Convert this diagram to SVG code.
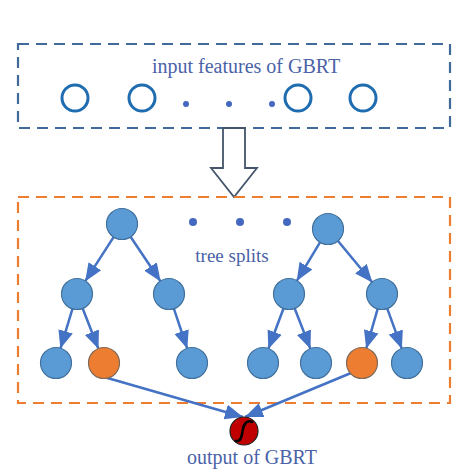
<svg xmlns="http://www.w3.org/2000/svg" width="474" height="474" viewBox="0 0 474 474">
<defs>
<style>
.lbl{font-family:"Liberation Serif","Times New Roman",serif;fill:#4a62a8;text-anchor:middle}
.in{fill:none;stroke:#1f6cb0;stroke-width:3}
.dot{fill:#4468c0}
.nd{fill:#5b9bd5;stroke:#41719c;stroke-width:1.2}
.leaf{fill:#ed7d31;stroke:#7f6a5a;stroke-width:1.2}
.e{stroke:#4472c4;stroke-width:2.5;fill:none;marker-end:url(#ah)}
</style>
<marker id="ah" markerUnits="userSpaceOnUse" markerWidth="20" markerHeight="20" viewBox="0 0 20 20" refX="18" refY="10" orient="auto">
<path d="M0,2.5 L18,10 L0,17.5 Z" fill="#4472c4"/>
</marker>
</defs>
<rect width="474" height="474" fill="#ffffff"/>
<g id="input-box">
<rect x="18" y="44" width="432" height="84" fill="none" stroke="#3f6a9a" stroke-width="2.2" stroke-dasharray="11,7"/>
<text class="lbl" x="246" y="73" font-size="20">input features of GBRT</text>
<circle class="in" cx="75" cy="98" r="13"/>
<circle class="in" cx="142" cy="98" r="13"/>
<circle class="in" cx="298" cy="98" r="13"/>
<circle class="in" cx="363" cy="98" r="13"/>
<circle class="dot" cx="186" cy="104" r="3"/>
<circle class="dot" cx="229" cy="104" r="3"/>
<circle class="dot" cx="272" cy="104" r="3"/>
</g>
<g id="big-arrow">
<path d="M223,128 L245,128 L245,168 L257,168 L234,197 L211,168 L223,168 Z" fill="#ffffff" stroke="#44546a" stroke-width="1.8" stroke-linejoin="miter"/>
</g>
<g id="tree-box">
<rect x="18" y="197" width="432" height="206" fill="none" stroke="#ed7d31" stroke-width="2.2" stroke-dasharray="11,7"/>
<text class="lbl" x="232" y="262" font-size="19">tree splits</text>
<circle class="dot" cx="193" cy="222" r="4"/>
<circle class="dot" cx="240" cy="222" r="4"/>
<circle class="dot" cx="287" cy="222" r="4"/>
</g>
<g id="connectors">
<line class="e" x1="113.9" y1="236.6" x2="85.1" y2="281.4"/>
<line class="e" x1="130.4" y1="236.5" x2="160.6" y2="281.5"/>
<line class="e" x1="72.6" y1="308.4" x2="60.4" y2="348.6"/>
<line class="e" x1="82.5" y1="308" x2="98.5" y2="349"/>
<line class="e" x1="173.7" y1="308.2" x2="187.3" y2="348.8"/>
<line class="e" x1="320.3" y1="241.9" x2="296.7" y2="281.1"/>
<line class="e" x1="337.6" y1="240.5" x2="372.4" y2="282.5"/>
<line class="e" x1="283.7" y1="308" x2="268.3" y2="349"/>
<line class="e" x1="294.5" y1="308" x2="310.5" y2="349"/>
<line class="e" x1="377.8" y1="308.4" x2="366.2" y2="348.6"/>
<line class="e" x1="387.1" y1="308.1" x2="401.9" y2="348.9"/>
<line class="e" x1="104" y1="377" x2="243" y2="417"/>
<line class="e" x1="351" y1="373" x2="245" y2="417"/>
</g>
<g id="left-tree">
<circle class="nd" cx="122" cy="224" r="15.5"/>
<circle class="nd" cx="77" cy="294" r="15.5"/>
<circle class="nd" cx="169" cy="294" r="15.5"/>
<circle class="nd" cx="56" cy="363" r="15.5"/>
<circle class="leaf" cx="104" cy="363" r="15.5"/>
<circle class="nd" cx="192" cy="363" r="15.5"/>
</g>
<g id="right-tree">
<circle class="nd" cx="328" cy="229" r="15.5"/>
<circle class="nd" cx="289" cy="294" r="15.5"/>
<circle class="nd" cx="382" cy="294" r="15.5"/>
<circle class="nd" cx="263" cy="363" r="15.5"/>
<circle class="nd" cx="316" cy="363" r="15.5"/>
<circle class="leaf" cx="362" cy="363" r="15.5"/>
<circle class="nd" cx="407" cy="363" r="15.5"/>
</g>
<g id="output">
<circle cx="244" cy="431" r="14" fill="#c00000" stroke="#222" stroke-width="1.2"/>
<path d="M236,441 C244,442 241,428 245,424 C247,421 250,421 252,422" fill="none" stroke="#000" stroke-width="2.6" stroke-linecap="round"/>
<text class="lbl" x="252" y="464" font-size="20">output of GBRT</text>
</g>
</svg>
